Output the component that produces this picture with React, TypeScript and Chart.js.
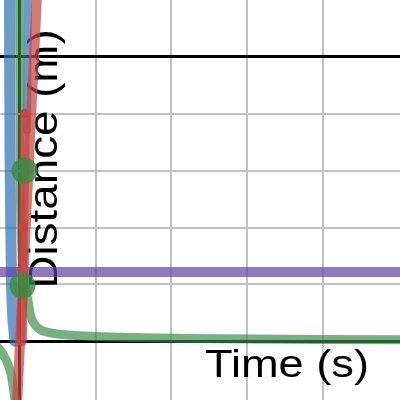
import React, { useEffect, useRef } from "react";
import { Chart, registerables } from "chart.js";

Chart.register(...registerables);

// Axis ranges (data units)
const X_MIN = -0.2643;
const X_MAX = 5.022;
const Y_MIN = -1.032;
const Y_MAX = 6.0;

const X_TITLE = "Time (s)";
const Y_TITLE = "Distance (m)";

// Blue lines
const blueAX = [-0.139, -0.132, -0.112, -0.093, -0.066];
const blueAY = [6.09, 3.36, 0.99, 0.37, 0.0];
const blueBX = [0.106, 0.093];
const blueBY = [6.09, 3.71];

// Red lines
const redAX = [0.225, -0.04];
const redAY = [6.09, -1.12];
const redBX = [0.066, 0.042, 0.026];
const redBY = [4.0, 2.0, 0.0];
const redDotX = [0.066, 0.04];
const redDotY = [4.0, 2.0];

// Green curve (two branches)
const greenRX = [-0.0066, 0.0, 0.0066, 0.026, 0.053, 0.093, 0.145, 0.198, 0.304, 0.621, 1.454, 3.04, 5.09];
const greenRY = [6.09, 4.24, 2.48, 1.6, 1.08, 0.81, 0.43, 0.29, 0.18, 0.11, 0.067, 0.04, 0.026];
const greenLX = [-0.33, -0.264, -0.211, -0.159, -0.119, -0.093, -0.066, -0.053];
const greenLY = [-0.05, -0.15, -0.26, -0.4, -0.57, -0.77, -1.03, -1.24];
const greenDotX = [0.059, 0.033];
const greenDotY = [3.0, 0.98];

// Purple horizontal line
const purpleX = [-0.3, 5.1];
const purpleY = [1.22, 1.22];

const pts = (xs: number[], ys: number[]) => xs.map((x, i) => ({ x, y: ys[i] }));

const BLUE = "rgba(45,112,179,0.7)";
const RED = "rgba(199,68,64,0.72)";
const GREEN = "rgba(56,140,70,0.68)";
const GREEN_DOT = "rgba(56,140,70,0.82)";
const RED_DOT = "rgba(199,68,64,0.85)";
const PURPLE = "rgba(96,66,166,0.7)";

const labelPlugin = {
  id: "axisLabels",
  beforeDatasetsDraw(chart: any) {
    const ctx = chart.ctx as CanvasRenderingContext2D;
    ctx.save();
    ctx.fillStyle = "#000";
    ctx.textAlign = "left";
    ctx.textBaseline = "alphabetic";

    ctx.font = '38px "Liberation Sans", Arial, sans-serif';
    let m = ctx.measureText(X_TITLE);
    let w = m.actualBoundingBoxLeft + m.actualBoundingBoxRight;
    let s = 162 / w;
    ctx.save();
    ctx.translate(205, 377);
    ctx.scale(s, 1);
    ctx.fillText(X_TITLE, m.actualBoundingBoxLeft, 0);
    ctx.restore();

    ctx.font = '40px "Liberation Sans", Arial, sans-serif';
    m = ctx.measureText(Y_TITLE);
    w = m.actualBoundingBoxLeft + m.actualBoundingBoxRight;
    s = 253 / w;
    ctx.save();
    ctx.translate(57, 285);
    ctx.rotate(-Math.PI / 2);
    ctx.scale(s, 1);
    ctx.fillText(Y_TITLE, m.actualBoundingBoxLeft, 0);
    ctx.restore();

    ctx.restore();
  },
};

const lineDs = (label: string, xs: number[], ys: number[], color: string, width: number, tension = 0) => ({
  label,
  data: pts(xs, ys),
  showLine: true,
  borderColor: color,
  backgroundColor: color,
  borderWidth: width,
  borderCapStyle: "round" as const,
  borderJoinStyle: "round" as const,
  pointRadius: 0,
  pointHoverRadius: 0,
  tension,
});

const dotDs = (label: string, xs: number[], ys: number[], color: string, r: number) => ({
  label,
  data: pts(xs, ys),
  showLine: false,
  pointRadius: r,
  pointHoverRadius: r,
  pointBackgroundColor: color,
  pointBorderWidth: 0,
  borderWidth: 0,
  backgroundColor: color,
  borderColor: color,
});

export default function App() {
  const ref = useRef<HTMLCanvasElement | null>(null);

  useEffect(() => {
    if (!ref.current) return;
    const xColor = (c: any) => {
      const v = c.tick?.value;
      if (v === 0) return "#000";
      if (v > 0 && v < 5) return "#c2c2c2";
      return "rgba(0,0,0,0)";
    };
    const yColor = (c: any) => {
      const v = c.tick?.value;
      if (v === 0 || v === 5) return "#000";
      if (v > 0 && v < 5) return "#c2c2c2";
      return "rgba(0,0,0,0)";
    };
    const xWidth = (c: any) => (c.tick?.value === 0 ? 3 : 2);
    const yWidth = (c: any) => (c.tick?.value === 0 || c.tick?.value === 5 ? 3 : 2);

    const chart = new Chart(ref.current, {
      type: "scatter",
      data: {
        datasets: [
          dotDs("Green points", greenDotX, greenDotY, GREEN_DOT, 13),
          dotDs("Red points", redDotX, redDotY, RED_DOT, 4.5),
          lineDs("Red A", redAX, redAY, RED, 10),
          lineDs("Red B", redBX, redBY, RED, 10),
          lineDs("Green right", greenRX, greenRY, GREEN, 9, 0.3),
          lineDs("Green left", greenLX, greenLY, GREEN, 9, 0.3),
          lineDs("Purple", purpleX, purpleY, PURPLE, 10),
          lineDs("Blue A", blueAX, blueAY, BLUE, 11, 0.2),
          lineDs("Blue B", blueBX, blueBY, BLUE, 8),
        ] as any,
      },
      options: {
        animation: false,
        responsive: false,
        maintainAspectRatio: false,
        devicePixelRatio: 1,
        layout: { padding: 0, autoPadding: false },
        events: [],
        plugins: {
          legend: { display: false },
          tooltip: { enabled: false },
          title: { display: false },
        },
        scales: {
          x: {
            type: "linear",
            min: X_MIN,
            max: X_MAX,
            ticks: { display: false, stepSize: 1, includeBounds: false, padding: 0 } as any,
            grid: { color: xColor, lineWidth: xWidth, drawTicks: false, tickLength: 0 },
            border: { display: false },
            afterFit: (s: any) => {
              s.height = 0;
            },
          },
          y: {
            type: "linear",
            min: Y_MIN,
            max: Y_MAX,
            ticks: { display: false, stepSize: 1, includeBounds: false, padding: 0 } as any,
            grid: { color: yColor, lineWidth: yWidth, drawTicks: false, tickLength: 0 },
            border: { display: false },
            afterFit: (s: any) => {
              s.width = 0;
            },
          },
        },
      } as any,
      plugins: [labelPlugin],
    });
    return () => chart.destroy();
  }, []);

  return (
    <div style={{ position: "fixed", left: 0, top: 0, width: 400, height: 400, background: "#fff" }}>
      <canvas ref={ref} width={400} height={400} style={{ display: "block", width: 400, height: 400 }} />
    </div>
  );
}
